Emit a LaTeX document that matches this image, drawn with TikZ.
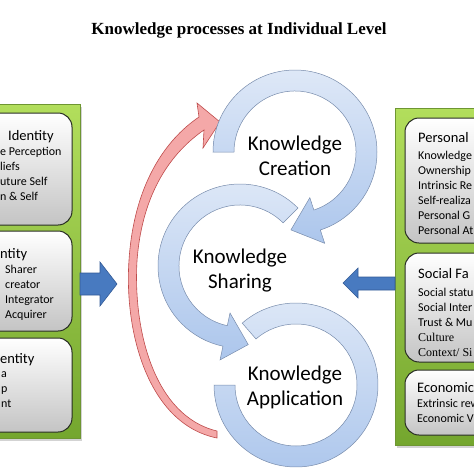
\documentclass[tikz,border=0pt]{standalone}
\usepackage{fontspec}
\setmainfont{Carlito}
\newfontfamily\timesfont{Liberation Serif}
\usetikzlibrary{arrows.meta,positioning,calc,shadows}

\definecolor{paneltop}{RGB}{178,222,92}
\definecolor{panelbot}{RGB}{116,166,46}
\definecolor{panelline}{RGB}{110,150,50}
\definecolor{cardgray}{RGB}{196,196,196}
\definecolor{cardline}{RGB}{40,45,35}
\definecolor{ringtop}{RGB}{222,232,247}
\definecolor{ringbot}{RGB}{172,198,236}
\definecolor{ringline}{RGB}{120,140,172}
\definecolor{redfill}{RGB}{244,168,168}
\definecolor{redline}{RGB}{190,75,75}
\definecolor{bluefill}{RGB}{72,122,192}
\definecolor{blueline}{RGB}{50,90,150}

\begin{document}
\begin{tikzpicture}[x=1pt, y=-1pt,
    every node/.style={inner sep=0pt, font=\fontsize{12}{15}\selectfont},
    title/.style={font=\timesfont\bfseries\fontsize{17}{20}\selectfont},
    panel/.style={draw=panelline, line width=0.6pt, top color=paneltop, bottom color=panelbot,
      drop shadow={shadow xshift=2pt, shadow yshift=-2.5pt, opacity=0.35}},
    card/.style={draw=cardline, line width=1pt, rounded corners=14pt, top color=white, bottom color=cardgray},
    head/.style={anchor=base west, font=\fontsize{14.5}{17}\selectfont},
    items/.style={anchor=north west, align=left},
    ring/.style={draw=ringline, line width=0.5pt, top color=ringtop, bottom color=ringbot},
    redarrow/.style={draw=redline, line width=0.6pt, fill=redfill},
    blockarrow/.style={draw=blueline, line width=0.6pt, fill=bluefill},
    stage/.style={align=center, font=\fontsize{21}{25}\selectfont},
  ]
  \useasboundingbox (0,0) rectangle (474,474);
  \clip (0,0) rectangle (474,474);

  \node[title] (title) at (239,30) {Knowledge processes at Individual Level};

  % left panel
  \path[panel] (-10,104) rectangle (80,438);
  \path[card] (-30,113) rectangle (72,225);
  \path[card] (-30,231) rectangle (72,331);
  \path[card] (-30,338) rectangle (72,432);
  \node[head] (selfHead) at (8,140) {Identity};
  \node[items] (selfItems) at (0,145) {\strut e Perception\\liefs\\uture Self\\n \& Self};
  \node[head] (roleHead) at (0,258) {ntity};
  \node[items] (roleItems) at (5,263) {\strut Sharer\\creator\\Integrator\\Acquirer};
  \node[head] (groupHead) at (0,363) {entity};
  \node[items] (groupItems) at (1,367) {\strut a\\p\\nt};

  % right panel
  \path[panel] (395,108) rectangle (484,445);
  \path[card] (405,118) rectangle (500,243);
  \path[card] (405,253) rectangle (500,362);
  \path[card] (405,370) rectangle (500,435);
  \node[head] (persHead) at (418,142) {Personal};
  \node[items] (persItems) at (418,149) {\strut Knowledge\\Ownership\\Intrinsic Re\\Self-realiza\\Personal G\\Personal At};
  \node[head] (socHead) at (418,278) {Social Fa};
  \node[items] (socItems) at (418,286) {\strut Social statu\\Social Inter\\Trust \& Mu\\{\timesfont Culture}\\{\timesfont Context/ Si}};
  \node[head] (ecoHead) at (417,392) {Economic};
  \node[items] (ecoItems) at (417,397) {\strut Extrinsic rew\\Economic V};

  % block arrows
  \path[blockarrow] (80,273) -- (100,273) -- (100,262) -- (117,284) -- (100,306) -- (100,295) -- (80,295) -- cycle;
  \path[blockarrow] (395,277) -- (358,277) -- (358,268) -- (343,283) -- (358,298) -- (358,290) -- (395,290) -- cycle;

  % red return arrow
  \path[redarrow] (217,438) .. controls (148,424) and (124,332) .. (129,260)
    .. controls (134,185) and (165,140) .. (199,117) -- (197,103) -- (220,122) -- (203,148) -- (204,130)
    .. controls (172,152) and (142,192) .. (137,261)
    .. controls (133,330) and (154,416) .. (217,431) -- cycle;

  % process rings (angles run clockwise, y points down)
  \coordinate (creC) at (295,152);
  \coordinate (shaC) at (240,266);
  \coordinate (appC) at (296,385);
  \path[ring] ($(appC)+(-131:82)$) arc[start angle=-131, end angle=180, radius=82]
    -- ($(appC)+(180:61)$) arc[start angle=180, end angle=-131, radius=61] -- cycle;
  \path[ring] ($(shaC)+(-45:82)$) arc[start angle=-45, end angle=-258, radius=82]
    -- ($(shaC)+(-258:96)$) -- ($(shaC)+(-276:79)$) -- ($(shaC)+(-258:48)$)
    -- ($(shaC)+(-258:61)$) arc[start angle=-258, end angle=-45, radius=61] -- cycle;
  \path[ring] ($(creC)+(-180:82)$) arc[start angle=-180, end angle=72, radius=82]
    -- ($(creC)+(72:96)$) -- ($(creC)+(93:78)$) -- ($(creC)+(72:48)$)
    -- ($(creC)+(72:61)$) arc[start angle=72, end angle=-180, radius=61] -- cycle;

  \node[stage] (creation) at (295,156) {Knowledge\\Creation};
  \node[stage] (sharing) at (240,271) {Knowledge\\Sharing};
  \node[stage] (application) at (295,387) {Knowledge\\Application};
\end{tikzpicture}
\end{document}
